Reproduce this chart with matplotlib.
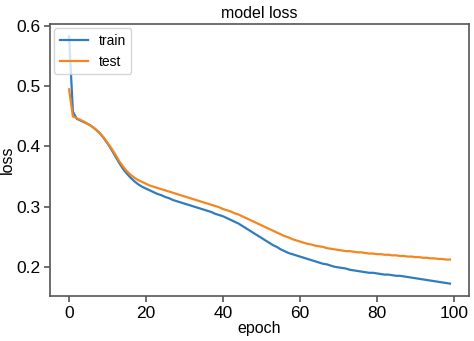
import matplotlib
matplotlib.use("Agg")
import matplotlib.pyplot as plt

plt.rcParams['font.family'] = ['Liberation Sans', 'DejaVu Sans']

epochs = list(range(100))

train_loss = [
    0.583, 0.458, 0.446, 0.443, 0.440, 0.437, 0.433, 0.428, 0.422, 0.414,
    0.405, 0.395, 0.384, 0.373, 0.363, 0.355, 0.348, 0.342, 0.337, 0.333,
    0.330, 0.327, 0.324, 0.321, 0.319, 0.316, 0.314, 0.311, 0.309, 0.307,
    0.305, 0.303, 0.301, 0.299, 0.297, 0.295, 0.293, 0.291, 0.288, 0.286,
    0.284, 0.281, 0.278, 0.275, 0.272, 0.268, 0.264, 0.260, 0.256, 0.252,
    0.248, 0.244, 0.240, 0.236, 0.233, 0.229, 0.226, 0.223, 0.221, 0.219,
    0.217, 0.215, 0.213, 0.211, 0.209, 0.207, 0.205, 0.204, 0.202, 0.200,
    0.199, 0.198, 0.197, 0.195, 0.194, 0.193, 0.192, 0.191, 0.190, 0.190,
    0.189, 0.188, 0.187, 0.187, 0.186, 0.185, 0.185, 0.184, 0.183, 0.182,
    0.181, 0.180, 0.179, 0.178, 0.177, 0.176, 0.175, 0.174, 0.173, 0.172,
]

test_loss = [
    0.495, 0.450, 0.447, 0.444, 0.441, 0.437, 0.433, 0.428, 0.422, 0.415,
    0.406, 0.397, 0.387, 0.376, 0.367, 0.359, 0.353, 0.348, 0.344, 0.341,
    0.338, 0.335, 0.333, 0.331, 0.329, 0.327, 0.325, 0.323, 0.321, 0.319,
    0.317, 0.315, 0.313, 0.311, 0.309, 0.307, 0.305, 0.303, 0.301, 0.299,
    0.296, 0.294, 0.292, 0.289, 0.287, 0.284, 0.281, 0.278, 0.275, 0.272,
    0.269, 0.266, 0.263, 0.260, 0.257, 0.254, 0.251, 0.249, 0.246, 0.244,
    0.242, 0.240, 0.238, 0.237, 0.235, 0.234, 0.233, 0.231, 0.230, 0.229,
    0.228, 0.227, 0.226, 0.226, 0.225, 0.224, 0.224, 0.223, 0.222, 0.222,
    0.221, 0.221, 0.220, 0.220, 0.219, 0.219, 0.218, 0.218, 0.217, 0.217,
    0.216, 0.216, 0.215, 0.215, 0.214, 0.214, 0.213, 0.213, 0.212, 0.212,
]

fig = plt.figure(figsize=(4.74, 3.41), dpi=100)
ax = fig.add_axes([0.1055, 0.132, 0.884, 0.7976])

ax.plot(epochs, train_loss, color='#2f7dc0', lw=1.6, label='train')
ax.plot(epochs, test_loss, color='#f5861f', lw=1.6, label='test')

ax.set_title('model loss', fontsize=11.5, pad=4)
ax.set_xlabel('epoch', fontsize=11.5, labelpad=0)
ax.set_ylabel('loss', fontsize=11.5, labelpad=1)
ax.set_yticks([0.2, 0.3, 0.4, 0.5, 0.6])
ax.tick_params(labelsize=12.5, color='#555555', width=1.2, length=4, pad=3)
for sp in ax.spines.values():
    sp.set_color('#555555')
    sp.set_linewidth(1.2)

ax.legend(loc='upper left', fontsize=10, borderaxespad=0.3,
          handlelength=2.0, framealpha=0.8)

fig.savefig('out.png', dpi=100)
